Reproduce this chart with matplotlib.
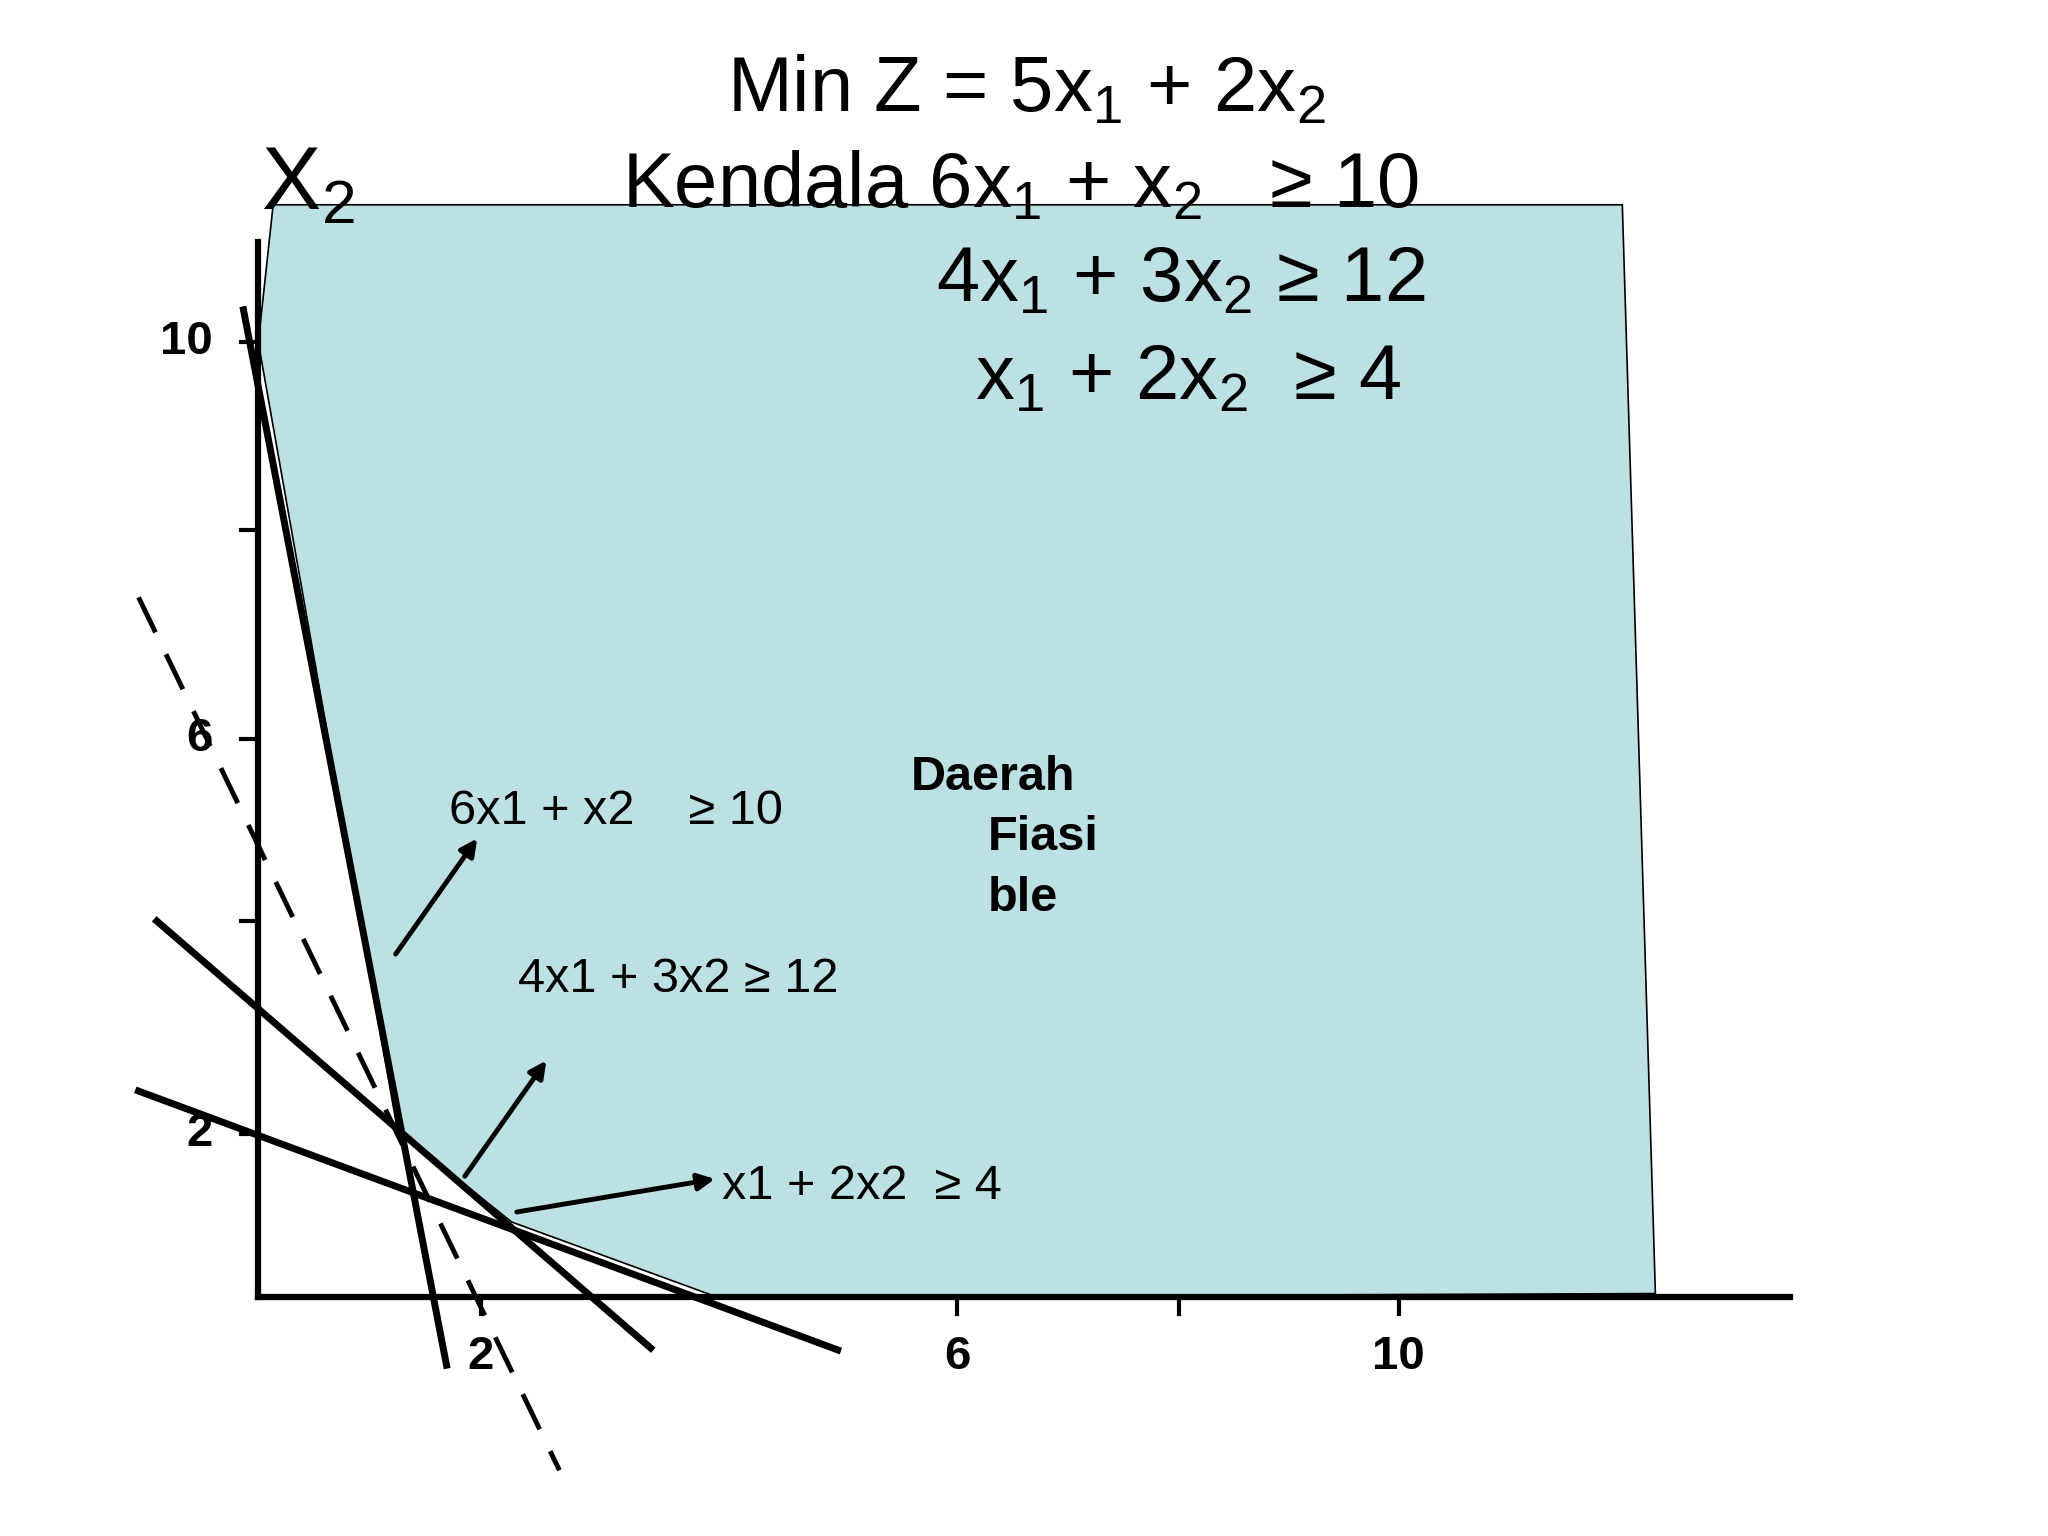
import matplotlib.pyplot as plt
from matplotlib.patches import Polygon

plt.rcParams['font.family'] = ['Liberation Sans', 'DejaVu Sans']
plt.rcParams['mathtext.fontset'] = 'custom'
plt.rcParams['mathtext.rm'] = 'Liberation Sans'
plt.rcParams['mathtext.it'] = 'Liberation Sans'

# constraint lines as drawn on the slide (x1, x2 end points)
line_6x1_x2 = [(-0.13, 10.34), (1.65, -0.71)]
line_4x1_3x2 = [(-0.89, 3.94), (3.44, -0.53)]
line_x1_2x2 = [(-1.05, 2.16), (5.08, -0.55)]
line_dashed = [(-1.05, 7.33), (2.64, -1.81)]

# feasible region corners
feasible = [(0, 10.0), (0.13, 11.44), (11.96, 11.44), (12.25, 0.04),
            (4.03, 0), (2.22, 0.79), (1.22, 1.75)]

x_ticks = [1.95, 6.13, 8.07, 10.0]
x_labels = [(1.95, '2'), (6.13, '6'), (10.0, '10')]
y_ticks = [10.0, 8.04, 5.85, 3.94, 1.71]
y_labels = [(10.0, '10'), (5.85, '6'), (1.71, '2')]

SX, SY = 87.4, 73.1  # slide pixels per unit
K = 1.01  # small correction of overall scale


def d(px, py):
    return (px - 196) / SX, (993 - py) / SY


fig = plt.figure(figsize=(20.48, 15.36), dpi=100)
ax = fig.add_axes([0, 0, 1, 1])
ax.set_xlim(-196 / SX * K, (1552 * K - 196) / SX)
ax.set_ylim((993 - 1164 * K) / SY, 993 / SY)
ax.axis('off')

ax.add_patch(Polygon(feasible, closed=True, facecolor='#bce0e4',
                     edgecolor='black', lw=1.2, zorder=1))

# axes
ax.plot([0, 0], [0, 11.05], color='black', lw=4.5, zorder=3)
ax.plot([0, 13.43], [0, 0], color='black', lw=4.5, zorder=3)
for t in x_ticks:
    ax.plot([t, t], [0, -0.17], color='black', lw=3)
for t in y_ticks:
    ax.plot([0, -0.15], [t, t], color='black', lw=3)
for x, s in x_labels:
    ax.text(x, -0.62, s, ha='center', va='center', fontsize=34, fontweight='bold')
for y, s in y_labels:
    ax.text(-0.4, y, s, ha='right', va='center', fontsize=34, fontweight='bold')

for seg in (line_6x1_x2, line_4x1_3x2, line_x1_2x2):
    ax.plot([seg[0][0], seg[1][0]], [seg[0][1], seg[1][1]], color='black', lw=5, zorder=4)
ax.plot([line_dashed[0][0], line_dashed[1][0]], [line_dashed[0][1], line_dashed[1][1]],
        color='black', lw=3.5, ls=(0, (8, 5)), zorder=4)

# arrows
for a, b in [((300, 732), (365, 640)), ((353, 902), (418, 810)), ((392, 928), (548, 902))]:
    ax.annotate('', xy=d(*b), xytext=d(*a),
                arrowprops=dict(arrowstyle='-|>', color='black', lw=3.5, mutation_scale=25))

# titles
ax.text(*d(785, 70), 'Min Z = 5x$_1$ + 2x$_2$', ha='center', va='center', fontsize=56)
ax.text(*d(475, 143), 'Kendala 6x$_1$ + x$_2$   ≥ 10', ha='left', va='center', fontsize=56)
ax.text(*d(1090, 215), '4x$_1$ + 3x$_2$ ≥ 12', ha='right', va='center', fontsize=56)
ax.text(*d(1072, 290), 'x$_1$ + 2x$_2$  ≥ 4', ha='right', va='center', fontsize=56)
ax.text(*d(198, 143), 'X$_2$', ha='left', va='center', fontsize=64)

ax.text(*d(342, 621), '6x1 + x2    ≥ 10', ha='left', va='center', fontsize=35)
ax.text(*d(395, 750), '4x1 + 3x2 ≥ 12', ha='left', va='center', fontsize=35)
ax.text(*d(551, 908), 'x1 + 2x2  ≥ 4', ha='left', va='center', fontsize=35)
ax.text(*d(696, 595), 'Daerah', ha='left', va='center', fontsize=35, fontweight='bold')
ax.text(*d(755, 641), 'Fiasi', ha='left', va='center', fontsize=35, fontweight='bold')
ax.text(*d(755, 688), 'ble', ha='left', va='center', fontsize=35, fontweight='bold')

fig.savefig('out.png', dpi=100, facecolor='white')
